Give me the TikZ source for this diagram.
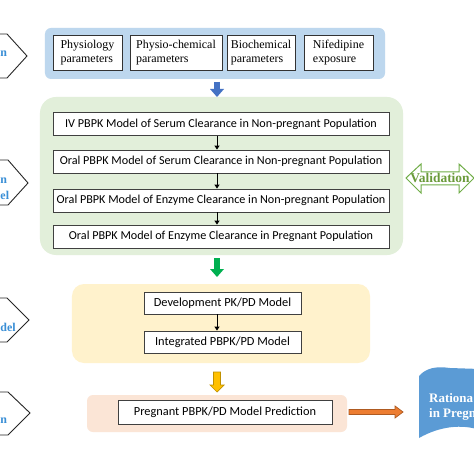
\documentclass[tikz,border=0pt]{standalone}
\usepackage{fontspec}
\setmainfont{Liberation Serif}
\newfontfamily\calib{Carlito}
\usetikzlibrary{arrows.meta,calc}
\definecolor{cblue}{HTML}{BDD7EE}
\definecolor{cgreen}{HTML}{E2EFDA}
\definecolor{cyel}{HTML}{FFF2CC}
\definecolor{cpeach}{HTML}{FBE5D6}
\definecolor{abl}{HTML}{4472C4}
\definecolor{agr}{HTML}{00B050}
\definecolor{ayel}{HTML}{FFC000}
\definecolor{ayeld}{HTML}{BF9000}
\definecolor{aor}{HTML}{ED7D31}
\definecolor{aord}{HTML}{AE5A21}
\definecolor{docb}{HTML}{5B9BD5}
\definecolor{valg}{HTML}{70AD47}
\definecolor{valt}{HTML}{6A9A3A}
\definecolor{hext}{HTML}{3A8FD6}
\begin{document}
\begin{tikzpicture}[x=1bp,y=-1bp,
  cont/.style={draw=none,inner sep=0pt,outer sep=0pt},
  parbox/.style={draw=black!80,line width=0.8bp,fill=white,inner sep=0pt,minimum height=35bp,align=left,font=\fontsize{12}{13.5}\selectfont},
  gbox/.style={draw=black!75,line width=0.8bp,fill=white,inner sep=0pt,minimum height=23bp,minimum width=336bp,font=\calib\fontsize{12.2}{14}\selectfont},
  ybox/.style={draw=black!75,line width=0.8bp,fill=white,inner sep=0pt,minimum height=22bp,minimum width=157bp,font=\calib\fontsize{12.4}{14}\selectfont},
  smallarr/.style={line width=1bp,-{Triangle[length=4bp,width=5bp]}},
  fatarr/.style={line width=6bp,-{Triangle[length=8bp,width=14bp,line width=0pt]}},
  hexs/.style={draw=black!85,line width=0.9bp,fill=white},
  hextxt/.style={text=hext,font=\bfseries\fontsize{12}{14}\selectfont,inner sep=0pt,anchor=west}
]
\useasboundingbox (0,0) rectangle (474,474);
\clip (0,0) rectangle (474,474);
\fill[white] (0,0) rectangle (474,474);
\coordinate (axis) at (217,0);

% left hexagon tags
\draw[hexs] (-30,34) -- (7,34) -- (27,56) -- (7,78) -- (-30,78) -- cycle;
\node[hextxt] (h1) at (0.3,54) {n};
\draw[hexs] (-30,160) -- (8,160) -- (28,183) -- (8,205) -- (-30,205) -- cycle;
\node[hextxt] (h2a) at (0.3,181) {n};
\node[hextxt] (h2b) at (0.3,195) {el};
\draw[hexs] (-30,298) -- (7,298) -- (29,320) -- (7,342) -- (-30,342) -- cycle;
\node[hextxt] (h3) at (0.3,327) {del};
\draw[hexs] (-30,392) -- (8,392) -- (30,413) -- (8,435) -- (-30,435) -- cycle;
\node[hextxt] (h4) at (0.3,421) {n};

% containers
\node[cont,fill=cblue,rounded corners=6bp,minimum width=340bp,minimum height=51bp] (top) at (215,53.5) {};
\node[cont,fill=cgreen,rounded corners=16bp,minimum width=363bp,minimum height=158bp] (green) at (221.5,176) {};
\node[cont,fill=cyel,rounded corners=12bp,minimum width=298bp,minimum height=79bp] (yel) at (221,323.5) {};
\node[cont,fill=cpeach,rounded corners=6bp,minimum width=260bp,minimum height=37bp] (peach) at (217,413.5) {};

% top parameter boxes
\node[parbox,minimum width=69bp] (p1) at (87.5,52.5) {Physiology\\parameters};
\node[parbox,minimum width=92bp] (p2) at (176,52.5) {Physio-chemical\\parameters};
\node[parbox,minimum width=68bp] (p3) at (261,52.5) {Biochemical\\parameters};
\node[parbox,minimum width=69bp] (p4) at (338.5,52.5) {Nifedipine\\exposure};

% green boxes
\node[gbox] (g1) at (221,124) {IV PBPK Model of Serum Clearance in Non-pregnant Population};
\node[gbox] (g2) at (221,161.5) {Oral PBPK Model of Serum Clearance in Non-pregnant Population};
\node[gbox] (g3) at (221,200.5) {Oral PBPK Model of Enzyme Clearance in Non-pregnant Population};
\node[gbox] (g4) at (221,236.5) {Oral PBPK Model of Enzyme Clearance in Pregnant Population};
\draw[smallarr] (g1.south -| axis) -- (g2.north -| axis);
\draw[smallarr] (g2.south -| axis) -- (g3.north -| axis);
\draw[smallarr] (g3.south -| axis) -- (g4.north -| axis);

% yellow boxes
\node[ybox] (y1) at (222.5,303) {Development PK/PD Model};
\node[ybox] (y2) at (222.5,342) {Integrated PBPK/PD Model};
\draw[smallarr] (y1.south -| axis) -- (y2.north -| axis);

% peach box
\node[ybox,minimum width=214bp,minimum height=24bp] (pr) at (225,412) {Pregnant PBPK/PD Model Prediction};

% fat arrows
\draw[fatarr,abl,shorten <=3bp] (top.south -| axis) -- (green.north -| axis);
\draw[fatarr,agr,shorten <=3bp] (green.south -| axis) -- ($(yel.north -| axis)+(0,-7)$);

\coordinate (ya) at ($(yel.south -| axis)+(0,9)$);
\coordinate (yb) at ($(peach.north -| axis)+(0,-3)$);
\filldraw[fill=ayel,draw=ayeld,line width=0.7bp,line join=miter]
  ($(ya)+(-3.5,0)$) -- ($(yb)+(-3.5,-7)$) -- ($(yb)+(-7,-7)$) -- (yb) -- ($(yb)+(7,-7)$) -- ($(yb)+(3.5,-7)$) -- ($(ya)+(3.5,0)$) -- cycle;

\coordinate (docw) at (419,405);
\coordinate (oa) at ($(peach.east)+(2,-1.5)$);
\coordinate (ob) at ($(docw |- oa)+(-16,0)$);
\filldraw[fill=aor,draw=aord,line width=0.7bp]
  ($(oa)+(0,-2.5)$) -- ($(ob)+(-8,-2.5)$) -- ($(ob)+(-8,-6)$) -- (ob) -- ($(ob)+(-8,6)$) -- ($(ob)+(-8,2.5)$) -- ($(oa)+(0,2.5)$) -- cycle;

% document shape
\fill[docb] (419,376) .. controls (426,368) and (436,366) .. (450,368) -- (480,369) -- (480,430)
  .. controls (462,424) and (440,426) .. (419,438) -- cycle;
\node[text=white,font=\bfseries\fontsize{13}{15}\selectfont,anchor=north west,align=left,inner sep=0pt] (doc) at (429,393) {Rationa\\in Pregn};

% validation double arrow
\filldraw[fill=white,draw=valg,line width=1bp,line join=miter] (406,178) -- (421,164) -- (421,172) -- (459,172) -- (459,164) -- (474,178) -- (459,193) -- (459,185) -- (421,185) -- (421,193) -- cycle;
\node[text=valt,font=\bfseries\fontsize{13.5}{15}\selectfont,inner sep=0pt] (val) at (440,178) {Validation};
\end{tikzpicture}
\end{document}
